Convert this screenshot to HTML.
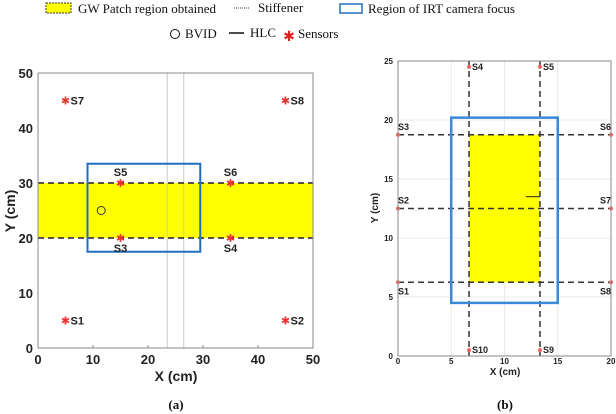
<!DOCTYPE html>
<html><head><meta charset="utf-8"><style>
body{margin:0;background:#fff}
svg{display:block}
.t{font-family:"Liberation Sans",sans-serif;font-weight:bold;fill:#222}
.l{font-family:"Liberation Serif",serif;fill:#111;font-size:13px}
</style></head><body>
<svg id="s" width="616" height="414" viewBox="0 0 616 414">
<g>
<rect x="46" y="3" width="25" height="10" fill="#ffff00" stroke="#333" stroke-dasharray="2,1"/>
<text class="l" x="78" y="13">GW Patch region obtained</text>
<line x1="234" y1="8" x2="250" y2="8" stroke="#333" stroke-dasharray="1,1"/>
<text class="l" x="258" y="12">Stiffener</text>
<rect x="340" y="4" width="22" height="9" fill="none" stroke="#1f6fc0" stroke-width="1.5"/>
<text class="l" x="368" y="13">Region of IRT camera focus</text>
<circle cx="175" cy="34" r="4.5" fill="none" stroke="#111"/>
<text class="l" x="185" y="38">BVID</text>
<line x1="229" y1="33" x2="244" y2="33" stroke="#111" stroke-width="1.5"/>
<text class="l" x="250" y="37">HLC</text>
<text x="289" y="41" font-size="14" fill="#e02020" text-anchor="middle" font-family="Liberation Sans">✱</text>
<text class="l" x="298" y="38">Sensors</text>
</g>
<g id="ga"></g>
<g id="gb"></g>
<text class="t" x="176" y="381" font-size="14" text-anchor="middle">X (cm)</text>
<text class="t" x="15" y="211" font-size="14" text-anchor="middle" transform="rotate(-90 15 211)">Y (cm)</text>
<text class="l" x="176" y="409" font-size="15" font-weight="bold" text-anchor="middle">(a)</text>
<text class="t" x="505" y="375" font-size="10" text-anchor="middle">X (cm)</text>
<text class="t" x="378" y="208" font-size="10" text-anchor="middle" transform="rotate(-90 378 208)">Y (cm)</text>
<text class="l" x="505" y="409" font-size="15" font-weight="bold" text-anchor="middle">(b)</text>
</svg>
<script>
const NS="http://www.w3.org/2000/svg";
const ticksA=[0,10,20,30,40,50];
const sensorsAName=["S1","S2","S3","S4","S5","S6","S7","S8"];
const sensorsAX=[5,45,15,35,15,35,5,45];
const sensorsAY=[5,5,20,20,30,30,45,45];
const patchAY=[20,30];
const irtA=[9,17.5,29.5,33.5];
const stiffenerX=[23.5,26.5];
const bvid=[11.5,25];
const ticksBX=[0,5,10,15,20];
const ticksBY=[0,5,10,15,20,25];
const sensorsBName=["S1","S2","S3","S4","S5","S6","S7","S8","S9","S10"];
const sensorsBX=[0,0,0,6.67,13.33,20,20,20,13.33,6.67];
const sensorsBY=[6.25,12.5,18.75,24.5,24.5,18.75,12.5,6.25,0.5,0.5];
const patchB=[6.67,6.25,13.33,18.75];
const irtB=[5,4.5,15,20.2];
const dashBY=[6.25,12.5,18.75];
const dashBX=[6.67,13.33];
const hlc=[12,13.3,13.5];
function mk(p,t,a){const e=document.createElementNS(NS,t);for(const k in a)e.setAttribute(k,a[k]);p.appendChild(e);return e;}
// plot a
const ga=document.getElementById('ga');
const ax=v=>38+v*5.5, ay=v=>348-v*5.5;
let r=mk(ga,'rect',{x:38,y:73,width:275,height:275,fill:'#fff'});

r=mk(ga,'rect',{x:ax(0),y:ay(patchAY[1]),width:ax(50)-ax(0),height:ay(patchAY[0])-ay(patchAY[1]),fill:'#ffff00'});

stiffenerX.forEach(v=>{const l=mk(ga,'line',{x1:ax(v),x2:ax(v),y1:73,y2:348,stroke:'#c8c8c8','stroke-width':1});
});
patchAY.forEach(v=>{const l=mk(ga,'line',{x1:38,x2:313,y1:ay(v),y2:ay(v),stroke:'#222','stroke-width':1.5,'stroke-dasharray':'6,4'});
});
r=mk(ga,'rect',{x:ax(irtA[0]),y:ay(irtA[3]),width:ax(irtA[2])-ax(irtA[0]),height:ay(irtA[1])-ay(irtA[3]),fill:'none',stroke:'#1f6fc0','stroke-width':2});

let c=mk(ga,'circle',{cx:ax(bvid[0]),cy:ay(bvid[1]),r:4,fill:'none',stroke:'#333'});

sensorsAName.forEach((n,i)=>{const x=ax(sensorsAX[i]),y=ay(sensorsAY[i]);
const m=mk(ga,'text',{x:x,y:y+4,'font-size':11,fill:'#f03030','text-anchor':'middle','font-family':'Liberation Sans'});m.textContent='✱';

let lx=x+5,ly=y+4,an='start';
if(sensorsAY[i]===30){lx=x;ly=y-7;an='middle';} else if(sensorsAY[i]===20){lx=x;ly=y+14;an='middle';}
const t=mk(ga,'text',{x:lx,y:ly,'font-size':11,'text-anchor':an,class:'t'});t.textContent=n;
});
r=mk(ga,'rect',{x:38,y:73,width:275,height:275,fill:'none',stroke:'#888','stroke-width':1});

ticksA.forEach(v=>{let t=mk(ga,'text',{x:ax(v),y:364,'font-size':13,'text-anchor':'middle',class:'t'});t.textContent=v;

t=mk(ga,'text',{x:33,y:ay(v)+5,'font-size':13,'text-anchor':'end',class:'t'});t.textContent=v;

const k=mk(ga,'line',{x1:ax(v),x2:ax(v),y1:348,y2:345,stroke:'#888'});});
// plot b
const gb=document.getElementById('gb');
const bx=v=>398+v*10.65, by=v=>356-v*11.8;
r=mk(gb,'rect',{x:398,y:61,width:213,height:295,fill:'#fff'});

ticksBX.forEach(v=>{const l=mk(gb,'line',{x1:bx(v),x2:bx(v),y1:61,y2:356,stroke:'#ebebeb'});});
ticksBY.forEach(v=>{const l=mk(gb,'line',{x1:398,x2:611,y1:by(v),y2:by(v),stroke:'#ebebeb'});});
r=mk(gb,'rect',{x:bx(patchB[0]),y:by(patchB[3]),width:bx(patchB[2])-bx(patchB[0]),height:by(patchB[1])-by(patchB[3]),fill:'#ffff00'});

dashBY.forEach(v=>{const l=mk(gb,'line',{x1:398,x2:611,y1:by(v),y2:by(v),stroke:'#333','stroke-width':1.5,'stroke-dasharray':'6,4'});});
dashBX.forEach(v=>{const l=mk(gb,'line',{x1:bx(v),x2:bx(v),y1:61,y2:356,stroke:'#333','stroke-width':1.5,'stroke-dasharray':'6,4'});});
r=mk(gb,'rect',{x:bx(irtB[0]),y:by(irtB[3]),width:bx(irtB[2])-bx(irtB[0]),height:by(irtB[1])-by(irtB[3]),fill:'none',stroke:'#3a8ad6','stroke-width':2.5});

let h=mk(gb,'line',{x1:bx(hlc[0]),x2:bx(hlc[1]),y1:by(hlc[2]),y2:by(hlc[2]),stroke:'#222','stroke-width':1});

sensorsBName.forEach((n,i)=>{const x=bx(sensorsBX[i]),y=by(sensorsBY[i]);
const m=mk(gb,'circle',{cx:x,cy:y,r:2,fill:'#f06060'});
let lx=x+3,ly=y+3,an='start';
if(sensorsBX[i]===0){lx=x;ly=(sensorsBY[i]<10)?y+12:y-5;}
else if(sensorsBX[i]===20){lx=x;ly=(sensorsBY[i]<10)?y+12:y-5;an='end';}
const t=mk(gb,'text',{x:lx,y:ly,'font-size':9,'text-anchor':an,class:'t'});t.textContent=n;
});
r=mk(gb,'rect',{x:398,y:61,width:213,height:295,fill:'none',stroke:'#888','stroke-width':1});

ticksBX.forEach(v=>{const t=mk(gb,'text',{x:bx(v),y:364,'font-size':8,'text-anchor':'middle',class:'t'});t.textContent=v;
});
ticksBY.forEach(v=>{const t=mk(gb,'text',{x:393,y:by(v)+3,'font-size':8,'text-anchor':'end',class:'t'});t.textContent=v;
});
</script>
</body></html>
